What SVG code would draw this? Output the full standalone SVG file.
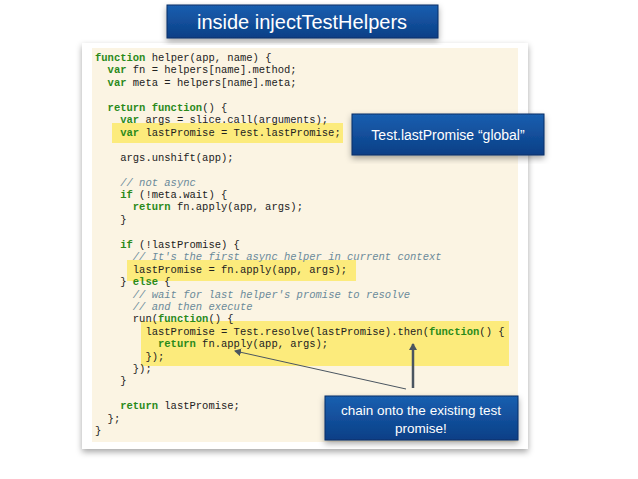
<svg xmlns="http://www.w3.org/2000/svg" width="638" height="479" viewBox="0 0 638 479">
<defs>
<linearGradient id="blue" x1="0" y1="0" x2="0" y2="1"><stop offset="0" stop-color="#1a5fb0"/><stop offset="1" stop-color="#0b3f86"/></linearGradient>
<marker id="ah" markerWidth="8" markerHeight="8" refX="6" refY="4" orient="auto" markerUnits="userSpaceOnUse"><path d="M0,0 L7,4 L0,8 Z" fill="#4a5560"/></marker>
<filter id="sh" x="-10%" y="-10%" width="120%" height="130%"><feDropShadow dx="0" dy="3" stdDeviation="3" flood-color="#000" flood-opacity="0.35"/></filter>
</defs>
<style>
.c{font-family:"Liberation Mono","DejaVu Sans Mono",monospace;font-size:10.5px;fill:#222}
.k{fill:#2a8a1a;font-weight:bold}
.m{fill:#6a8a9a;font-style:italic}
.hl{fill:#fbe96a;opacity:0.85}
.lbl{font-family:"Liberation Sans",Arial,sans-serif;fill:#fff}
</style>
<rect width="638" height="479" fill="#fff"/>
<g id="paper">
<rect x="82" y="43" width="446" height="406" fill="#fff" filter="url(#sh)"/>
<rect x="92" y="48" width="426" height="394" fill="#fbf4e3"/>
</g>
<g id="highlights">
<rect class="hl" x="112" y="123" width="231" height="20"/>
<rect class="hl" x="127" y="260" width="229" height="21"/>
<rect class="hl" x="141" y="321" width="368" height="45"/>
</g>
<g id="code" class="c">
<text x="95" y="61"><tspan class="k">function</tspan> helper(app, name) {</text>
<text x="107.6" y="73"><tspan class="k">var</tspan> fn = helpers[name].method;</text>
<text x="107.6" y="86"><tspan class="k">var</tspan> meta = helpers[name].meta;</text>
<text x="107.6" y="111"><tspan class="k">return</tspan> <tspan class="k">function</tspan>() {</text>
<text x="120.2" y="123"><tspan class="k">var</tspan> args = slice.call(arguments);</text>
<text x="120.2" y="136"><tspan class="k">var</tspan> lastPromise = Test.lastPromise;</text>
<text x="120.2" y="161">args.unshift(app);</text>
<text x="120.2" y="186" class="m">// not async</text>
<text x="120.2" y="198"><tspan class="k">if</tspan> (!meta.wait) {</text>
<text x="132.8" y="210"><tspan class="k">return</tspan> fn.apply(app, args);</text>
<text x="120.2" y="223">}</text>
<text x="120.2" y="248"><tspan class="k">if</tspan> (!lastPromise) {</text>
<text x="132.8" y="260" class="m">// It's the first async helper in current context</text>
<text x="132.8" y="273">lastPromise = fn.apply(app, args);</text>
<text x="120.2" y="285">} <tspan class="k">else</tspan> {</text>
<text x="132.8" y="298" class="m">// wait for last helper's promise to resolve</text>
<text x="132.8" y="310" class="m">// and then execute</text>
<text x="132.8" y="322">run(<tspan class="k">function</tspan>() {</text>
<text x="145.4" y="335">lastPromise = Test.resolve(lastPromise).then(<tspan class="k">function</tspan>() {</text>
<text x="158" y="347"><tspan class="k">return</tspan> fn.apply(app, args);</text>
<text x="145.4" y="360">});</text>
<text x="132.8" y="372">});</text>
<text x="120.2" y="384">}</text>
<text x="120.2" y="409"><tspan class="k">return</tspan> lastPromise;</text>
<text x="107.6" y="422">};</text>
<text x="95" y="434">}</text>
</g>
<g id="connectors" stroke="#4a5560" fill="none">
<line x1="413" y1="388" x2="413" y2="344" stroke-width="2.5" marker-end="url(#ah)"/>
<line x1="406" y1="389" x2="235" y2="351" stroke-width="1" marker-end="url(#ah)"/>
</g>
<g id="title">
<rect x="167" y="5" width="271" height="33" fill="url(#blue)" stroke="#0a2e66" filter="url(#sh)"/>
<text class="lbl" x="302" y="29" font-size="20" text-anchor="middle">inside injectTestHelpers</text>
</g>
<g id="callout1">
<rect x="352" y="114" width="192" height="41" fill="url(#blue)" stroke="#0a2e66" filter="url(#sh)"/>
<text class="lbl" x="448" y="140" font-size="14" text-anchor="middle">Test.lastPromise “global”</text>
</g>
<g id="callout2">
<rect x="325" y="396" width="193" height="44" fill="url(#blue)" stroke="#0a2e66" filter="url(#sh)"/>
<text class="lbl" x="421" y="415" font-size="13.5" text-anchor="middle">chain onto the existing test</text>
<text class="lbl" x="421" y="433" font-size="13.5" text-anchor="middle">promise!</text>
</g>
</svg>
